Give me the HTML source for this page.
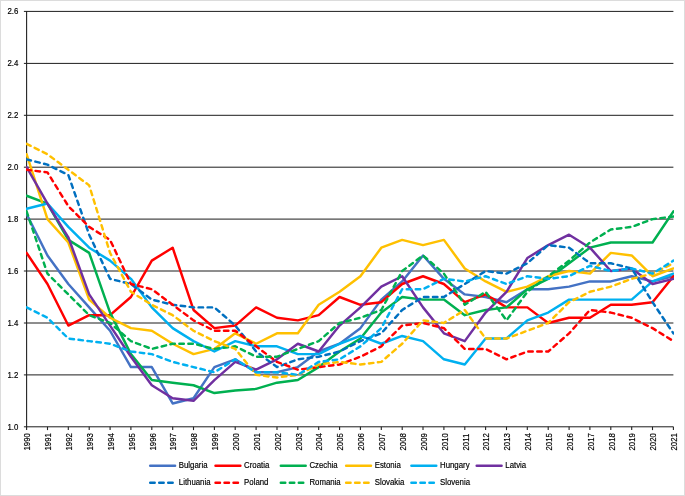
<!DOCTYPE html><html><head><meta charset="utf-8"><title>Chart</title><style>html,body{margin:0;padding:0;background:#fff}svg{display:block}text{font-family:"Liberation Sans",sans-serif;font-size:8.6px;fill:#000;stroke:#000;stroke-width:0.18px}</style></head><body>
<svg width="685" height="496" viewBox="0 0 685 496">
<rect x="0" y="0" width="685" height="496" fill="#fff"/>
<rect x="0.5" y="0.5" width="684" height="495" fill="none" stroke="#dcdcdc" stroke-width="1"/>
<line x1="23.9" y1="426.8" x2="673.4" y2="426.8" stroke="#1c1c1c" stroke-width="1"/>
<text transform="translate(18.3,429.6) scale(0.91,1)" text-anchor="end">1.0</text>
<line x1="23.9" y1="374.9" x2="673.4" y2="374.9" stroke="#1c1c1c" stroke-width="1"/>
<text transform="translate(18.3,377.7) scale(0.91,1)" text-anchor="end">1.2</text>
<line x1="23.9" y1="323.0" x2="673.4" y2="323.0" stroke="#1c1c1c" stroke-width="1"/>
<text transform="translate(18.3,325.8) scale(0.91,1)" text-anchor="end">1.4</text>
<line x1="23.9" y1="271.0" x2="673.4" y2="271.0" stroke="#1c1c1c" stroke-width="1"/>
<text transform="translate(18.3,273.8) scale(0.91,1)" text-anchor="end">1.6</text>
<line x1="23.9" y1="219.1" x2="673.4" y2="219.1" stroke="#1c1c1c" stroke-width="1"/>
<text transform="translate(18.3,221.9) scale(0.91,1)" text-anchor="end">1.8</text>
<line x1="23.9" y1="167.2" x2="673.4" y2="167.2" stroke="#1c1c1c" stroke-width="1"/>
<text transform="translate(18.3,170.0) scale(0.91,1)" text-anchor="end">2.0</text>
<line x1="23.9" y1="115.3" x2="673.4" y2="115.3" stroke="#1c1c1c" stroke-width="1"/>
<text transform="translate(18.3,118.1) scale(0.91,1)" text-anchor="end">2.2</text>
<line x1="23.9" y1="63.4" x2="673.4" y2="63.4" stroke="#1c1c1c" stroke-width="1"/>
<text transform="translate(18.3,66.2) scale(0.91,1)" text-anchor="end">2.4</text>
<line x1="23.9" y1="11.4" x2="673.4" y2="11.4" stroke="#1c1c1c" stroke-width="1"/>
<text transform="translate(18.3,14.2) scale(0.91,1)" text-anchor="end">2.6</text>
<line x1="26.6" y1="10.9" x2="26.6" y2="427.3" stroke="#222" stroke-width="1.1"/>
<line x1="26.6" y1="426.8" x2="26.6" y2="430.1" stroke="#222" stroke-width="1.1"/>
<text transform="translate(30.3,450.5) rotate(-90) scale(0.91,1)">1990</text>
<line x1="47.5" y1="426.8" x2="47.5" y2="430.1" stroke="#222" stroke-width="1.1"/>
<text transform="translate(51.2,450.5) rotate(-90) scale(0.91,1)">1991</text>
<line x1="68.3" y1="426.8" x2="68.3" y2="430.1" stroke="#222" stroke-width="1.1"/>
<text transform="translate(72.0,450.5) rotate(-90) scale(0.91,1)">1992</text>
<line x1="89.2" y1="426.8" x2="89.2" y2="430.1" stroke="#222" stroke-width="1.1"/>
<text transform="translate(92.9,450.5) rotate(-90) scale(0.91,1)">1993</text>
<line x1="110.1" y1="426.8" x2="110.1" y2="430.1" stroke="#222" stroke-width="1.1"/>
<text transform="translate(113.8,450.5) rotate(-90) scale(0.91,1)">1994</text>
<line x1="130.9" y1="426.8" x2="130.9" y2="430.1" stroke="#222" stroke-width="1.1"/>
<text transform="translate(134.6,450.5) rotate(-90) scale(0.91,1)">1995</text>
<line x1="151.8" y1="426.8" x2="151.8" y2="430.1" stroke="#222" stroke-width="1.1"/>
<text transform="translate(155.5,450.5) rotate(-90) scale(0.91,1)">1996</text>
<line x1="172.7" y1="426.8" x2="172.7" y2="430.1" stroke="#222" stroke-width="1.1"/>
<text transform="translate(176.4,450.5) rotate(-90) scale(0.91,1)">1997</text>
<line x1="193.5" y1="426.8" x2="193.5" y2="430.1" stroke="#222" stroke-width="1.1"/>
<text transform="translate(197.2,450.5) rotate(-90) scale(0.91,1)">1998</text>
<line x1="214.4" y1="426.8" x2="214.4" y2="430.1" stroke="#222" stroke-width="1.1"/>
<text transform="translate(218.1,450.5) rotate(-90) scale(0.91,1)">1999</text>
<line x1="235.2" y1="426.8" x2="235.2" y2="430.1" stroke="#222" stroke-width="1.1"/>
<text transform="translate(238.9,450.5) rotate(-90) scale(0.91,1)">2000</text>
<line x1="256.1" y1="426.8" x2="256.1" y2="430.1" stroke="#222" stroke-width="1.1"/>
<text transform="translate(259.8,450.5) rotate(-90) scale(0.91,1)">2001</text>
<line x1="277.0" y1="426.8" x2="277.0" y2="430.1" stroke="#222" stroke-width="1.1"/>
<text transform="translate(280.7,450.5) rotate(-90) scale(0.91,1)">2002</text>
<line x1="297.8" y1="426.8" x2="297.8" y2="430.1" stroke="#222" stroke-width="1.1"/>
<text transform="translate(301.5,450.5) rotate(-90) scale(0.91,1)">2003</text>
<line x1="318.7" y1="426.8" x2="318.7" y2="430.1" stroke="#222" stroke-width="1.1"/>
<text transform="translate(322.4,450.5) rotate(-90) scale(0.91,1)">2004</text>
<line x1="339.6" y1="426.8" x2="339.6" y2="430.1" stroke="#222" stroke-width="1.1"/>
<text transform="translate(343.3,450.5) rotate(-90) scale(0.91,1)">2005</text>
<line x1="360.4" y1="426.8" x2="360.4" y2="430.1" stroke="#222" stroke-width="1.1"/>
<text transform="translate(364.1,450.5) rotate(-90) scale(0.91,1)">2006</text>
<line x1="381.3" y1="426.8" x2="381.3" y2="430.1" stroke="#222" stroke-width="1.1"/>
<text transform="translate(385.0,450.5) rotate(-90) scale(0.91,1)">2007</text>
<line x1="402.2" y1="426.8" x2="402.2" y2="430.1" stroke="#222" stroke-width="1.1"/>
<text transform="translate(405.9,450.5) rotate(-90) scale(0.91,1)">2008</text>
<line x1="423.0" y1="426.8" x2="423.0" y2="430.1" stroke="#222" stroke-width="1.1"/>
<text transform="translate(426.7,450.5) rotate(-90) scale(0.91,1)">2009</text>
<line x1="443.9" y1="426.8" x2="443.9" y2="430.1" stroke="#222" stroke-width="1.1"/>
<text transform="translate(447.6,450.5) rotate(-90) scale(0.91,1)">2010</text>
<line x1="464.8" y1="426.8" x2="464.8" y2="430.1" stroke="#222" stroke-width="1.1"/>
<text transform="translate(468.5,450.5) rotate(-90) scale(0.91,1)">2011</text>
<line x1="485.6" y1="426.8" x2="485.6" y2="430.1" stroke="#222" stroke-width="1.1"/>
<text transform="translate(489.3,450.5) rotate(-90) scale(0.91,1)">2012</text>
<line x1="506.5" y1="426.8" x2="506.5" y2="430.1" stroke="#222" stroke-width="1.1"/>
<text transform="translate(510.2,450.5) rotate(-90) scale(0.91,1)">2013</text>
<line x1="527.3" y1="426.8" x2="527.3" y2="430.1" stroke="#222" stroke-width="1.1"/>
<text transform="translate(531.0,450.5) rotate(-90) scale(0.91,1)">2014</text>
<line x1="548.2" y1="426.8" x2="548.2" y2="430.1" stroke="#222" stroke-width="1.1"/>
<text transform="translate(551.9,450.5) rotate(-90) scale(0.91,1)">2015</text>
<line x1="569.1" y1="426.8" x2="569.1" y2="430.1" stroke="#222" stroke-width="1.1"/>
<text transform="translate(572.8,450.5) rotate(-90) scale(0.91,1)">2016</text>
<line x1="589.9" y1="426.8" x2="589.9" y2="430.1" stroke="#222" stroke-width="1.1"/>
<text transform="translate(593.6,450.5) rotate(-90) scale(0.91,1)">2017</text>
<line x1="610.8" y1="426.8" x2="610.8" y2="430.1" stroke="#222" stroke-width="1.1"/>
<text transform="translate(614.5,450.5) rotate(-90) scale(0.91,1)">2018</text>
<line x1="631.7" y1="426.8" x2="631.7" y2="430.1" stroke="#222" stroke-width="1.1"/>
<text transform="translate(635.4,450.5) rotate(-90) scale(0.91,1)">2019</text>
<line x1="652.5" y1="426.8" x2="652.5" y2="430.1" stroke="#222" stroke-width="1.1"/>
<text transform="translate(656.2,450.5) rotate(-90) scale(0.91,1)">2020</text>
<line x1="673.4" y1="426.8" x2="673.4" y2="430.1" stroke="#222" stroke-width="1.1"/>
<text transform="translate(677.1,450.5) rotate(-90) scale(0.91,1)">2021</text>
<defs><clipPath id="plot"><rect x="26" y="5" width="648" height="425"/></clipPath></defs><g clip-path="url(#plot)">
<polyline points="26.60,213.93 47.46,255.46 68.33,284.02 89.19,307.38 110.06,330.75 130.92,367.09 151.79,367.09 172.65,403.44 193.52,398.24 214.38,367.09 235.25,359.30 256.11,372.28 276.97,372.28 297.84,367.09 318.70,351.52 339.57,343.73 360.43,328.15 381.30,299.60 402.16,281.42 423.03,255.46 443.89,278.83 464.75,294.40 485.62,297.00 506.48,302.19 527.35,289.21 548.21,289.21 569.08,286.62 589.94,281.42 610.81,281.42 631.67,276.23 652.54,281.42 673.40,276.23" fill="none" stroke="#4472C4" stroke-width="2.45" stroke-linejoin="round" stroke-linecap="round"/>
<polyline points="26.60,252.87 47.46,284.02 68.33,325.56 89.19,315.17 110.06,315.17 130.92,297.00 151.79,260.66 172.65,247.68 193.52,309.98 214.38,328.15 235.25,325.56 256.11,307.38 276.97,317.77 297.84,320.36 318.70,315.17 339.57,297.00 360.43,304.79 381.30,302.19 402.16,284.02 423.03,276.23 443.89,284.02 464.75,302.19 485.62,294.40 506.48,307.38 527.35,307.38 548.21,322.96 569.08,317.77 589.94,317.77 610.81,304.79 631.67,304.79 652.54,302.19 673.40,276.23" fill="none" stroke="#FF0000" stroke-width="2.45" stroke-linejoin="round" stroke-linecap="round"/>
<polyline points="26.60,195.76 47.46,203.54 68.33,239.89 89.19,252.87 110.06,312.58 130.92,354.11 151.79,380.07 172.65,382.67 193.52,385.26 214.38,393.05 235.25,390.46 256.11,388.90 276.97,382.67 297.84,380.07 318.70,367.09 339.57,351.52 360.43,338.54 381.30,312.58 402.16,297.00 423.03,299.60 443.89,299.60 464.75,315.17 485.62,309.98 506.48,307.38 527.35,289.21 548.21,278.83 569.08,263.25 589.94,247.68 610.81,242.48 631.67,242.48 652.54,242.48 673.40,211.33" fill="none" stroke="#00B050" stroke-width="2.45" stroke-linejoin="round" stroke-linecap="round"/>
<polyline points="26.60,154.22 47.46,219.12 68.33,242.48 89.19,299.60 110.06,317.77 130.92,328.15 151.79,330.75 172.65,343.73 193.52,354.11 214.38,348.92 235.25,333.34 256.11,343.73 276.97,333.34 297.84,333.34 318.70,304.79 339.57,291.81 360.43,276.23 381.30,247.68 402.16,239.89 423.03,245.08 443.89,239.89 464.75,268.44 485.62,281.42 506.48,291.81 527.35,286.62 548.21,276.23 569.08,271.04 589.94,273.64 610.81,252.87 631.67,255.46 652.54,276.23 673.40,268.44" fill="none" stroke="#FFC000" stroke-width="2.45" stroke-linejoin="round" stroke-linecap="round"/>
<polyline points="26.60,208.74 47.46,203.54 68.33,226.91 89.19,247.68 110.06,260.66 130.92,278.83 151.79,307.38 172.65,328.15 193.52,341.13 214.38,351.52 235.25,341.13 256.11,346.32 276.97,346.32 297.84,354.11 318.70,354.11 339.57,343.73 360.43,335.94 381.30,343.73 402.16,335.94 423.03,341.13 443.89,359.30 464.75,364.50 485.62,338.54 506.48,338.54 527.35,320.36 548.21,312.58 569.08,299.60 589.94,299.60 610.81,299.60 631.67,299.60 652.54,281.42 673.40,273.64" fill="none" stroke="#00B0F0" stroke-width="2.45" stroke-linejoin="round" stroke-linecap="round"/>
<polyline points="26.60,167.20 47.46,203.54 68.33,237.29 89.19,294.40 110.06,325.56 130.92,356.71 151.79,385.26 172.65,398.24 193.52,400.84 214.38,380.07 235.25,361.90 256.11,369.69 276.97,359.30 297.84,343.73 318.70,351.52 339.57,325.56 360.43,307.38 381.30,286.62 402.16,276.23 423.03,307.38 443.89,333.34 464.75,341.13 485.62,312.58 506.48,291.81 527.35,258.06 548.21,245.08 569.08,234.70 589.94,247.68 610.81,271.04 631.67,268.44 652.54,284.02 673.40,278.83" fill="none" stroke="#7030A0" stroke-width="2.45" stroke-linejoin="round" stroke-linecap="round"/>
<polyline points="26.60,159.41 47.46,164.60 68.33,174.99 89.19,234.70 110.06,278.83 130.92,284.02 151.79,299.60 172.65,304.79 193.52,307.38 214.38,307.38 235.25,325.56 256.11,351.52 276.97,367.09 297.84,359.30 318.70,356.71 339.57,351.52 360.43,341.13 381.30,333.34 402.16,309.98 423.03,297.00 443.89,297.00 464.75,284.02 485.62,271.04 506.48,273.64 527.35,263.25 548.21,245.08 569.08,247.68 589.94,263.25 610.81,263.25 631.67,268.44 652.54,302.19 673.40,333.34" fill="none" stroke="#0070C0" stroke-width="2.45" stroke-linejoin="round" stroke-linecap="round" stroke-dasharray="4.5 4.5"/>
<polyline points="26.60,169.80 47.46,172.39 68.33,206.14 89.19,226.91 110.06,239.89 130.92,284.02 151.79,289.21 172.65,304.79 193.52,320.36 214.38,330.75 235.25,330.75 256.11,346.32 276.97,361.90 297.84,369.69 318.70,367.09 339.57,364.50 360.43,356.71 381.30,346.32 402.16,325.56 423.03,322.96 443.89,328.15 464.75,348.92 485.62,348.92 506.48,359.30 527.35,351.52 548.21,351.52 569.08,333.34 589.94,309.98 610.81,312.58 631.67,317.77 652.54,328.15 673.40,341.13" fill="none" stroke="#FF0000" stroke-width="2.45" stroke-linejoin="round" stroke-linecap="round" stroke-dasharray="4.5 4.5"/>
<polyline points="26.60,211.33 47.46,273.64 68.33,294.40 89.19,315.17 110.06,322.96 130.92,341.13 151.79,348.92 172.65,343.73 193.52,343.73 214.38,348.92 235.25,346.32 256.11,356.71 276.97,356.71 297.84,348.92 318.70,341.13 339.57,322.96 360.43,317.77 381.30,309.98 402.16,271.04 423.03,255.46 443.89,273.64 464.75,304.79 485.62,291.81 506.48,320.36 527.35,291.81 548.21,276.23 569.08,260.66 589.94,242.48 610.81,229.50 631.67,226.91 652.54,219.12 673.40,216.52" fill="none" stroke="#00B050" stroke-width="2.45" stroke-linejoin="round" stroke-linecap="round" stroke-dasharray="4.5 4.5"/>
<polyline points="26.60,143.84 47.46,154.22 68.33,169.80 89.19,185.37 110.06,252.87 130.92,291.81 151.79,304.79 172.65,315.17 193.52,330.75 214.38,341.13 235.25,348.92 256.11,374.88 276.97,377.48 297.84,374.88 318.70,364.50 339.57,361.90 360.43,364.50 381.30,361.90 402.16,343.73 423.03,320.36 443.89,322.96 464.75,309.98 485.62,338.54 506.48,338.54 527.35,330.75 548.21,322.96 569.08,302.19 589.94,291.81 610.81,286.62 631.67,278.83 652.54,273.64 673.40,263.25" fill="none" stroke="#FFC000" stroke-width="2.45" stroke-linejoin="round" stroke-linecap="round" stroke-dasharray="4.5 4.5"/>
<polyline points="26.60,307.38 47.46,317.77 68.33,338.54 89.19,341.13 110.06,343.73 130.92,351.52 151.79,354.11 172.65,361.90 193.52,367.09 214.38,372.28 235.25,359.30 256.11,372.28 276.97,372.28 297.84,374.88 318.70,361.90 339.57,359.30 360.43,346.32 381.30,328.15 402.16,289.21 423.03,289.21 443.89,278.83 464.75,281.42 485.62,276.23 506.48,284.02 527.35,276.23 548.21,278.83 569.08,276.23 589.94,265.85 610.81,271.04 631.67,268.44 652.54,273.64 673.40,260.66" fill="none" stroke="#00B0F0" stroke-width="2.45" stroke-linejoin="round" stroke-linecap="round" stroke-dasharray="4.5 4.5"/>
</g>
<line x1="150.2" y1="465.7" x2="175.1" y2="465.7" stroke="#4472C4" stroke-width="2.45" stroke-linecap="round"/>
<text transform="translate(178.8,468.2) scale(0.91,1)">Bulgaria</text>
<line x1="215.5" y1="465.7" x2="240.4" y2="465.7" stroke="#FF0000" stroke-width="2.45" stroke-linecap="round"/>
<text transform="translate(244.1,468.2) scale(0.91,1)">Croatia</text>
<line x1="280.8" y1="465.7" x2="305.7" y2="465.7" stroke="#00B050" stroke-width="2.45" stroke-linecap="round"/>
<text transform="translate(309.4,468.2) scale(0.91,1)">Czechia</text>
<line x1="346.1" y1="465.7" x2="371.0" y2="465.7" stroke="#FFC000" stroke-width="2.45" stroke-linecap="round"/>
<text transform="translate(374.7,468.2) scale(0.91,1)">Estonia</text>
<line x1="411.4" y1="465.7" x2="436.3" y2="465.7" stroke="#00B0F0" stroke-width="2.45" stroke-linecap="round"/>
<text transform="translate(440.0,468.2) scale(0.91,1)">Hungary</text>
<line x1="476.7" y1="465.7" x2="501.6" y2="465.7" stroke="#7030A0" stroke-width="2.45" stroke-linecap="round"/>
<text transform="translate(505.3,468.2) scale(0.91,1)">Latvia</text>
<line x1="150.2" y1="482.7" x2="175.1" y2="482.7" stroke="#0070C0" stroke-width="2.45" stroke-linecap="round" stroke-dasharray="4.5 4.5"/>
<text transform="translate(178.8,485.2) scale(0.91,1)">Lithuania</text>
<line x1="215.5" y1="482.7" x2="240.4" y2="482.7" stroke="#FF0000" stroke-width="2.45" stroke-linecap="round" stroke-dasharray="4.5 4.5"/>
<text transform="translate(244.1,485.2) scale(0.91,1)">Poland</text>
<line x1="280.8" y1="482.7" x2="305.7" y2="482.7" stroke="#00B050" stroke-width="2.45" stroke-linecap="round" stroke-dasharray="4.5 4.5"/>
<text transform="translate(309.4,485.2) scale(0.91,1)">Romania</text>
<line x1="346.1" y1="482.7" x2="371.0" y2="482.7" stroke="#FFC000" stroke-width="2.45" stroke-linecap="round" stroke-dasharray="4.5 4.5"/>
<text transform="translate(374.7,485.2) scale(0.91,1)">Slovakia</text>
<line x1="411.4" y1="482.7" x2="436.3" y2="482.7" stroke="#00B0F0" stroke-width="2.45" stroke-linecap="round" stroke-dasharray="4.5 4.5"/>
<text transform="translate(440.0,485.2) scale(0.91,1)">Slovenia</text>
</svg></body></html>
